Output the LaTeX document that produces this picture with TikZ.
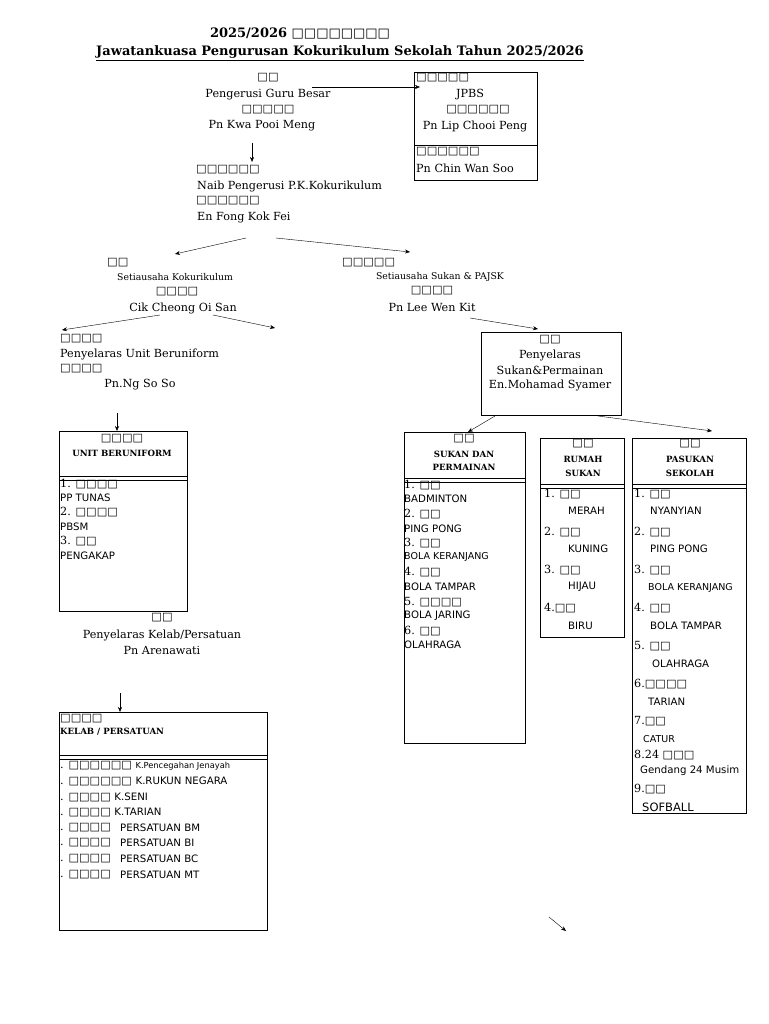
\documentclass[tikz,border=0pt]{standalone}
\usepackage{fontspec}
\setmainfont{DejaVu Serif}
\newfontfamily\sym{DejaVu Sans}
\newfontfamily\sansf{DejaVu Sans}
\usetikzlibrary{arrows.meta}
\newcommand\B[1]{{\sym #1}}
\begin{document}
\begin{tikzpicture}[x=1pt,y=-1pt,
 t/.style={inner sep=0pt,font=\fontsize{11.2}{12}\selectfont},
 l/.style={t,anchor=west},
 sm/.style={t,font=\fontsize{9.3}{10}\selectfont},
 sl/.style={l,font=\sansf\fontsize{10.2}{11}\selectfont},
 sls/.style={l,font=\sansf\fontsize{9.5}{10}\selectfont},
 hb/.style={t,font=\bfseries\fontsize{8.6}{9}\selectfont},
 bx/.style={draw,thick},
 arr/.style={-{Stealth[length=5pt,width=4pt]}}]
\useasboundingbox (0,0) rectangle (768,1024);
% titles
\node[t,font=\bfseries\fontsize{13}{14}\selectfont] (title) at (300,33) {2025/2026 \B{□□□□□□□□}};
\node[t,font=\bfseries\fontsize{13}{14}\selectfont] (sub) at (340,53) {\underline{Jawatankuasa Pengurusan Kokurikulum Sekolah Tahun 2025/2026}};
% chair
\node[t] (c1) at (268,78) {\B{□□}};
\node[t] (c2) at (268,95) {Pengerusi Guru Besar};
\node[t] (c3) at (268,110) {\B{□□□□□}};
\node[t] (c4) at (262,126) {Pn Kwa Pooi Meng};
\coordinate (a1s) at (312,87); \coordinate (a1e) at (420,87);
\draw[arr] (a1s) -- (a1e);
% JPBS box
\draw[bx] (414,72) rectangle (537,180); \draw[bx] (414,145) -- (537,145);
\node[l] (j1) at (416,78) {\B{□□□□□}};
\node[t] (j2) at (470,95) {JPBS};
\node[t] (j3) at (478,110) {\B{□□□□□□}};
\node[t] (j4) at (475,126) {Pn Lip Chooi Peng};
\node[l] (j5) at (416,152) {\B{□□□□□□}};
\node[l] (j6) at (416,168) {Pn Chin Wan Soo};
\coordinate (a2s) at (252,143); \coordinate (a2e) at (252,162);
\draw[arr] (a2s) -- (a2e);
% naib
\node[l] (n1) at (196,170) {\B{□□□□□□}};
\node[l] (n2) at (197,186) {Naib Pengerusi P.K.Kokurikulum};
\node[l] (n3) at (196,201) {\B{□□□□□□}};
\node[l] (n4) at (197,217) {En Fong Kok Fei};
\coordinate (a3s) at (246,238); \coordinate (a3e) at (175,254);
\coordinate (a4s) at (276,238); \coordinate (a4e) at (410,252);
\draw[arr] (a3s) -- (a3e); \draw[arr] (a4s) -- (a4e);
% setiausaha
\node[l] (s1) at (107,263) {\B{□□}};
\node[sm] (s2) at (175,277) {Setiausaha Kokurikulum};
\node[t] (s3) at (177,292) {\B{□□□□}};
\node[t] (s4) at (183,308) {Cik Cheong Oi San};
\node[l] (p1) at (342,263) {\B{□□□□□}};
\node[sm] (p2) at (440,277) {Setiausaha Sukan \& PAJSK};
\node[t] (p3) at (432,291) {\B{□□□□}};
\node[t] (p4) at (432,307) {Pn Lee Wen Kit};
\coordinate (a5s) at (160,315); \coordinate (a5e) at (62,330);
\coordinate (a6s) at (213,315); \coordinate (a6e) at (275,328);
\coordinate (a7s) at (470,318); \coordinate (a7e) at (538,329);
\draw[arr] (a5s) -- (a5e); \draw[arr] (a6s) -- (a6e); \draw[arr] (a7s) -- (a7e);
% penyelaras unit
\node[l] (u1) at (60,339) {\B{□□□□}};
\node[l] (u2) at (60,354) {Penyelaras Unit Beruniform};
\node[l] (u3) at (60,369) {\B{□□□□}};
\node[t] (u4) at (140,385) {Pn.Ng So So};
% penyelaras sukan box
\draw[bx] (481,332) rectangle (621,415);
\node[t] (k1) at (550,340) {\B{□□}};
\node[t] (k2) at (550,355) {Penyelaras};
\node[t] (k3) at (550,370) {Sukan\&Permainan};
\node[t] (k4) at (550,385) {En.Mohamad Syamer};
\coordinate (a8s) at (117,413); \coordinate (a8e) at (117,431);
\draw[arr] (a8s) -- (a8e);
% unit beruniform box
\draw[bx] (59,431) rectangle (187,611);
\draw (59,476) -- (187,476); \draw (59,480) -- (187,480);
\node[t] (ub1) at (122,439) {\B{□□□□}};
\node[hb] (ub2) at (122,453) {UNIT BERUNIFORM};
\node[l] at (60,484) {1. \B{□□□□}};
\node[sl] at (60,498) {PP TUNAS};
\node[l] at (60,512) {2. \B{□□□□}};
\node[sl] at (60,527) {PBSM};
\node[l] at (60,541) {3. \B{□□}};
\node[sl] at (60,556) {PENGAKAP};
% penyelaras kelab
\node[t] (e1) at (162,618) {\B{□□}};
\node[t] (e2) at (162,635) {Penyelaras Kelab/Persatuan};
\node[t] (e3) at (162,650) {Pn Arenawati};
\coordinate (a9s) at (120,693); \coordinate (a9e) at (120,712);
\draw[arr] (a9s) -- (a9e);
% kelab box
\draw[bx] (59,712) rectangle (267,930);
\draw (59,755) -- (267,755); \draw (59,759) -- (267,759);
\node[l] at (60,719) {\B{□□□□}};
\node[l,font=\bfseries\fontsize{8.6}{9}\selectfont] at (60,732) {KELAB / PERSATUAN};
\node[l] at (60,766) {. \B{□□□□□□} {\sansf\fontsize{8.3}{9}\selectfont K.Pencegahan Jenayah}};
\node[l] at (60,781) {. \B{□□□□□□} {\sansf\fontsize{10.2}{11}\selectfont K.RUKUN NEGARA}};
\node[l] at (60,797) {. \B{□□□□} {\sansf\fontsize{10.2}{11}\selectfont K.SENI}};
\node[l] at (60,812) {. \B{□□□□} {\sansf\fontsize{10.2}{11}\selectfont K.TARIAN}};
\foreach \y/\s in {828/BM,843/BI,859/BC,875/MT}{
 \node[l] at (60,\y) {. \B{□□□□}};
 \node[sl] at (120,\y) {PERSATUAN \s};}
% arrows from penyelaras sukan
\coordinate (b1s) at (495,416); \coordinate (b1e) at (468,432);
\coordinate (b2s) at (598,416); \coordinate (b2e) at (712,431);
\draw[arr] (b1s) -- (b1e); \draw[arr] (b2s) -- (b2e);
% sukan box
\draw[bx] (404,432) rectangle (525,743);
\draw (404,478) -- (525,478); \draw (404,482) -- (525,482);
\node[t] at (464,439) {\B{□□}};
\node[hb] at (464,454) {SUKAN DAN};
\node[hb] at (464,467) {PERMAINAN};
\node[l] at (404,485) {1. \B{□□}}; \node[sl] at (404,499) {BADMINTON};
\node[l] at (404,514) {2. \B{□□}}; \node[sl] at (404,529) {PING PONG};
\node[l] at (404,543) {3. \B{□□}}; \node[sls] at (404,557) {BOLA KERANJANG};
\node[l] at (404,572) {4. \B{□□}}; \node[sl] at (404,587) {BOLA TAMPAR};
\node[l] at (404,602) {5. \B{□□□□}}; \node[sl] at (404,616) {BOLA JARING};
\node[l] at (404,631) {6. \B{□□}}; \node[sl] at (404,645) {OLAHRAGA};
% rumah box
\draw[bx] (540,438) rectangle (624,637);
\draw (540,484) -- (624,484); \draw (540,488) -- (624,488);
\node[t] at (583,444) {\B{□□}};
\node[hb] at (583,459) {RUMAH};
\node[hb] at (583,473) {SUKAN};
\node[l] at (544,494) {1. \B{□□}}; \node[sl] at (568,511) {MERAH};
\node[l] at (544,532) {2. \B{□□}}; \node[sl] at (568,549) {KUNING};
\node[l] at (544,570) {3. \B{□□}}; \node[sl] at (568,587) {HIJAU};
\node[l] at (544,608) {4.\B{□□}}; \node[sl] at (568,626) {BIRU};
% pasukan box
\draw[bx] (632,438) rectangle (746,813);
\draw (632,484) -- (746,484); \draw (632,488) -- (746,488);
\node[t] at (690,444) {\B{□□}};
\node[hb] at (690,459) {PASUKAN};
\node[hb] at (690,473) {SEKOLAH};
\node[l] at (634,494) {1. \B{□□}}; \node[sl] at (650,511) {NYANYIAN};
\node[l] at (634,532) {2. \B{□□}}; \node[sl] at (650,549) {PING PONG};
\node[l] at (634,570) {3. \B{□□}}; \node[sls] at (648,588) {BOLA KERANJANG};
\node[l] at (634,608) {4. \B{□□}}; \node[sl] at (650,626) {BOLA TAMPAR};
\node[l] at (634,646) {5. \B{□□}}; \node[sl] at (652,664) {OLAHRAGA};
\node[l] at (634,684) {6.\B{□□□□}}; \node[sl] at (648,702) {TARIAN};
\node[l] at (634,721) {7.\B{□□}}; \node[sls] at (643,739) {CATUR};
\node[l] at (634,755) {8.24 \B{□□□}}; \node[sl] at (640,771) {Gendang 24 Musim};
\node[l] at (634,789) {9.\B{□□}}; \node[l,font=\sansf\fontsize{11.5}{12}\selectfont] at (642,807) {SOFBALL};
% stray arrow
\coordinate (c9s) at (549,917); \coordinate (c9e) at (566,931);
\draw[arr] (c9s) -- (c9e);
\end{tikzpicture}
\end{document}
